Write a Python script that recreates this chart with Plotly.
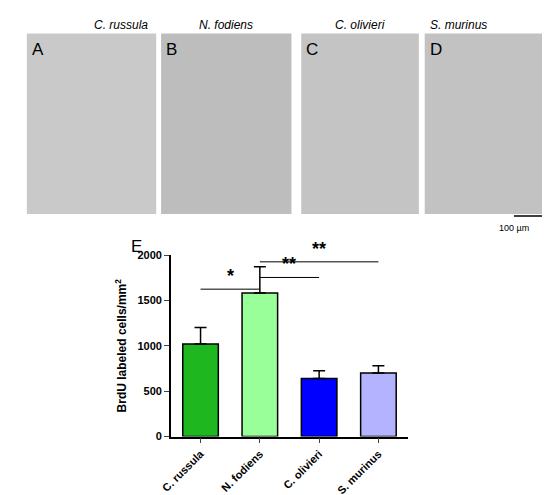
import plotly.graph_objects as go

categories = ["C. russula", "N. fodiens", "C. olivieri", "S. murinus"]
means = [1020, 1580, 640, 700]
errors = [180, 290, 85, 80]
colors = ["#1fb71f", "#99ff99", "#0000ff", "#b3b3ff"]
yticks = [0, 500, 1000, 1500, 2000]
panel_letters = ["A", "B", "C", "D"]
panel_names = ["C. russula", "N. fodiens", "C. olivieri", "S. murinus"]

W, H = 550, 495
def py(y): return 1 - y / H
def px(x): return x / W

fig = go.Figure(go.Bar(
    x=categories, y=means, marker=dict(color=colors, line=dict(color="black", width=1.5)),
    error_y=dict(type="data", array=errors, symmetric=False, arrayminus=[0]*4,
                 color="black", thickness=1.5, width=6),
    width=0.6))

shapes, ann = [], []
panels = [(8, 140), (145, 278), (288, 408), (414, 545)]
shades = ["#c9c9c9", "#bdbdbd", "#c4c4c4", "#c2c2c2"]
for (x0, x1), L, n, s in zip(panels, panel_letters, panel_names, shades):
    shapes.append(dict(type="rect", xref="paper", yref="paper", x0=px(x0), x1=px(x1),
                       y0=py(205), y1=py(20), fillcolor=s, line=dict(width=0), layer="below"))
    ann.append(dict(x=px(x0 + 3), y=py(25), xref="paper", yref="paper", text=L, showarrow=False,
                    xanchor="left", yanchor="top", font=dict(size=17, color="black")))
    ann.append(dict(x=px((x0 + x1) / 2), y=py(2), xref="paper", yref="paper", text="<i>" + n + "</i>",
                    showarrow=False, yanchor="top", font=dict(size=12, color="black")))
shapes.append(dict(type="line", xref="paper", yref="paper", x0=px(505), x1=px(540), y0=py(207), y1=py(207),
                   line=dict(color="black", width=1.5)))
ann.append(dict(x=px(522), y=py(212), xref="paper", yref="paper", text="100 µm", showarrow=False,
                yanchor="top", font=dict(size=9, color="black")))
ann.append(dict(x=px(112), y=py(226), xref="paper", yref="paper", text="E", showarrow=False,
                xanchor="left", yanchor="top", font=dict(size=17, color="black")))

sig = [(0, 1, 282, "*"), (1, 2, 270, "**"), (1, 3, 254, "**")]
for a, b, y, t in sig:
    shapes.append(dict(type="line", xref="x", yref="paper", x0=a, x1=b, y0=py(y), y1=py(y),
                       line=dict(color="black", width=1)))
    ann.append(dict(x=(a + b) / 2, xref="x", y=py(y - 1), yref="paper", text="<b>" + t + "</b>",
                    showarrow=False, yanchor="bottom", font=dict(size=18, color="black")))

fig.update_layout(
    width=W, height=H, margin=dict(l=0, r=0, t=0, b=0), plot_bgcolor="white", paper_bgcolor="white",
    showlegend=False, shapes=shapes, annotations=ann, font=dict(family="Liberation Sans", color="black"),
    xaxis=dict(domain=[px(155), px(397)], showline=True, linecolor="black", linewidth=1.5,
               tickangle=-45, ticks="outside", tickfont=dict(size=11),
               tickvals=categories, ticktext=["<b>" + c + "</b>" for c in categories]),
    yaxis=dict(domain=[py(433), py(247)], range=[0, 2000], tickvals=yticks,
               ticktext=["<b>%d</b>" % v for v in yticks], showline=True, linecolor="black", linewidth=1.5,
               ticks="outside", showgrid=False, zeroline=False, tickfont=dict(size=11),
               title=dict(text="<b>BrdU labeled cells/mm<sup>2</sup></b>", font=dict(size=12), standoff=8)),
)
fig.write_html("out.html")
